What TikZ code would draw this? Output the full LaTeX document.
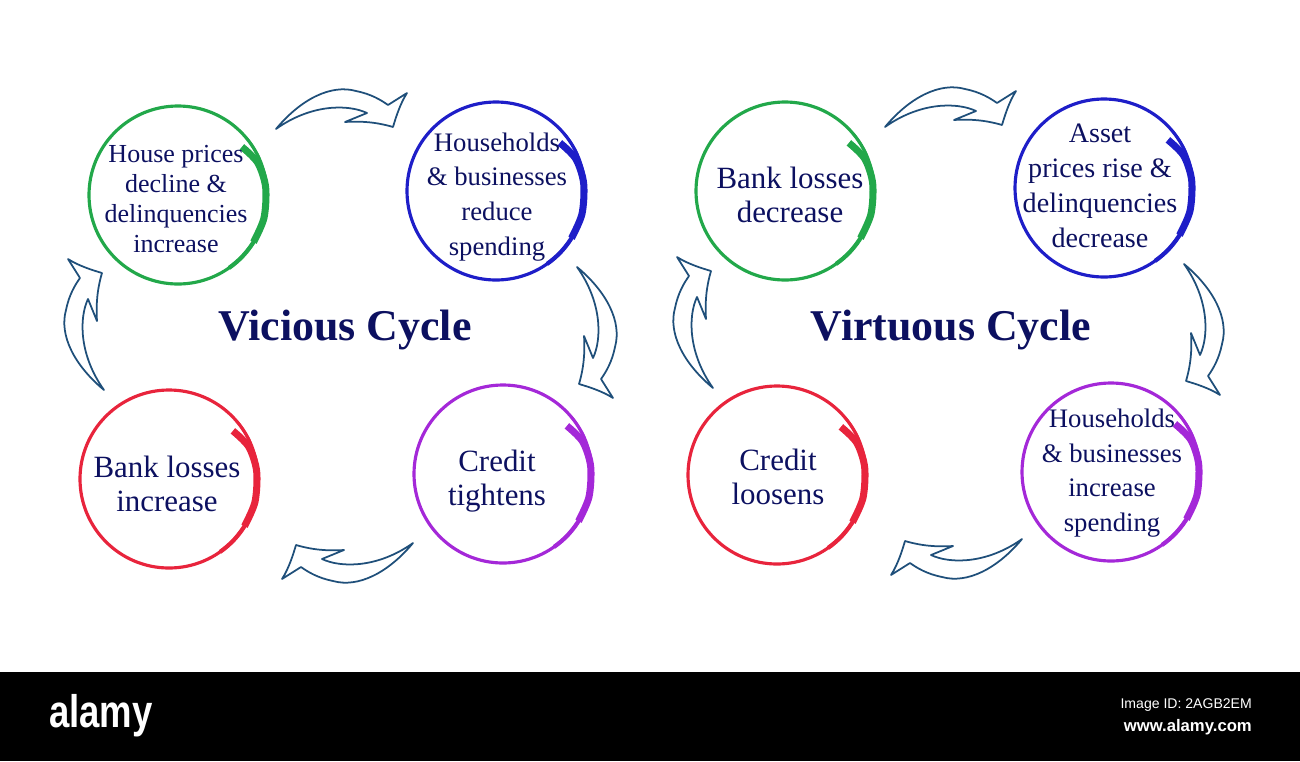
\documentclass[tikz,border=0pt]{standalone}
\usepackage{fontspec}
\setmainfont{Liberation Serif}
\newfontfamily\alamyfont{Liberation Sans}

\definecolor{txtnavy}{RGB}{12,16,96}
\definecolor{cgreen}{RGB}{34,168,74}
\definecolor{cblue}{RGB}{30,30,200}
\definecolor{cred}{RGB}{232,36,60}
\definecolor{cpurple}{RGB}{164,40,216}
\definecolor{arrowblue}{RGB}{31,79,122}

\tikzset{
  % hollow bent arrow, tail at the origin
  pics/bendarrow/.style={code={
    \draw[arrowblue, line width=1pt, line join=round]
      (0,0) .. controls (25,30) and (55,45) .. (80,38)
      .. controls (95,35) and (105,29) .. (112,24)
      -- (131,36) .. controls (124,25) and (120,12) .. (117,2)
      .. controls (100,7) and (85,8) .. (69,7)
      -- (91,16) .. controls (72,25) and (35,25) .. (0,0) -- cycle;
  }},
}

% hand drawn ring: colour, x, y
\newcommand{\penring}[3]{
  \draw[#1, line width=1.8pt] (#2,#3) circle[radius=89];
  \draw[#1, line width=1.5pt] (#2,#3) ++(40:89) arc[start angle=40, end angle=24, radius=92];
  \draw[#1, line width=4pt] plot[smooth] coordinates
    {($(#2,#3)+(37:80)$) ($(#2,#3)+(22:86)$) ($(#2,#3)+(5:88)$) ($(#2,#3)+(-15:89)$) ($(#2,#3)+(-32:89)$)};
  \draw[#1, line width=2.4pt] (#2,#3) ++(-30:89) arc[start angle=-30, end angle=-55, radius=89];
}

\usetikzlibrary{calc}

\begin{document}
\begin{tikzpicture}[x=0.02cm, y=0.02cm,
    ringtext/.style={align=center, text=txtnavy, font=\fontsize{17.6}{19.8}\selectfont},
    longtext/.style={ringtext, font=\fontsize{15.2}{19.8}\selectfont},
    cycletitle/.style={text=txtnavy, font=\fontsize{25}{30}\selectfont\bfseries}]
  \useasboundingbox (0,0) rectangle (1300,-761);

  % Vicious cycle
  \penring{cgreen}{178}{-195}
  \penring{cblue}{496}{-191}
  \penring{cpurple}{503}{-474}
  \penring{cred}{169}{-479}
  \node[ringtext, font=\fontsize{14.8}{17}\selectfont] (hpdecline) at (176,-199)
    {House prices\\decline \&\\delinquencies\\increase};
  \node[longtext] (hhreduce) at (497,-197) {Households\\\& businesses\\reduce\\spending};
  \node[ringtext] (credtight) at (497,-481) {Credit\\tightens};
  \node[ringtext] (banklossinc) at (167,-484) {Bank losses\\increase};
  \node[cycletitle] (vicious) at (345,-330) {Vicious Cycle};

  \pic at (276,-129) {bendarrow};
  \pic[rotate=-90] at (577,-267) {bendarrow};
  \pic[rotate=180] at (413,-543) {bendarrow};
  \pic[rotate=90] at (104,-390) {bendarrow};

  % Virtuous cycle
  \penring{cgreen}{785}{-191}
  \penring{cblue}{1104}{-188}
  \penring{cpurple}{1111}{-472}
  \penring{cred}{777}{-475}
  \node[ringtext] (banklossdec) at (790,-195) {Bank losses\\decrease};
  \node[longtext, font=\fontsize{16}{19.8}\selectfont] (assetrise) at (1100,-186)
    {Asset\\prices rise \&\\delinquencies\\decrease};
  \node[longtext] (hhincrease) at (1112,-473) {Households\\\& businesses\\increase\\spending};
  \node[ringtext] (credloose) at (778,-477) {Credit\\loosens};
  \node[cycletitle] (virtuous) at (951,-330) {Virtuous Cycle};

  \pic at (885,-127) {bendarrow};
  \pic[rotate=-90] at (1184,-264) {bendarrow};
  \pic[rotate=180] at (1022,-539) {bendarrow};
  \pic[rotate=90] at (713,-388) {bendarrow};

  % stock photo strip
  \fill[black] (0,-672) rectangle (1300,-761);
  \node[white, xscale=0.8, font=\alamyfont\bfseries\fontsize{26}{26}\selectfont] (alamylogo) at (101,-716) {alamy};
  \node[white, anchor=east, font=\alamyfont\fontsize{8}{10}\selectfont] (imageid) at (1258,-705) {Image ID: 2AGB2EM};
  \node[white, anchor=east, font=\alamyfont\bfseries\fontsize{9.5}{11}\selectfont] (alamyweb) at (1258,-727) {www.alamy.com};
\end{tikzpicture}
\end{document}
